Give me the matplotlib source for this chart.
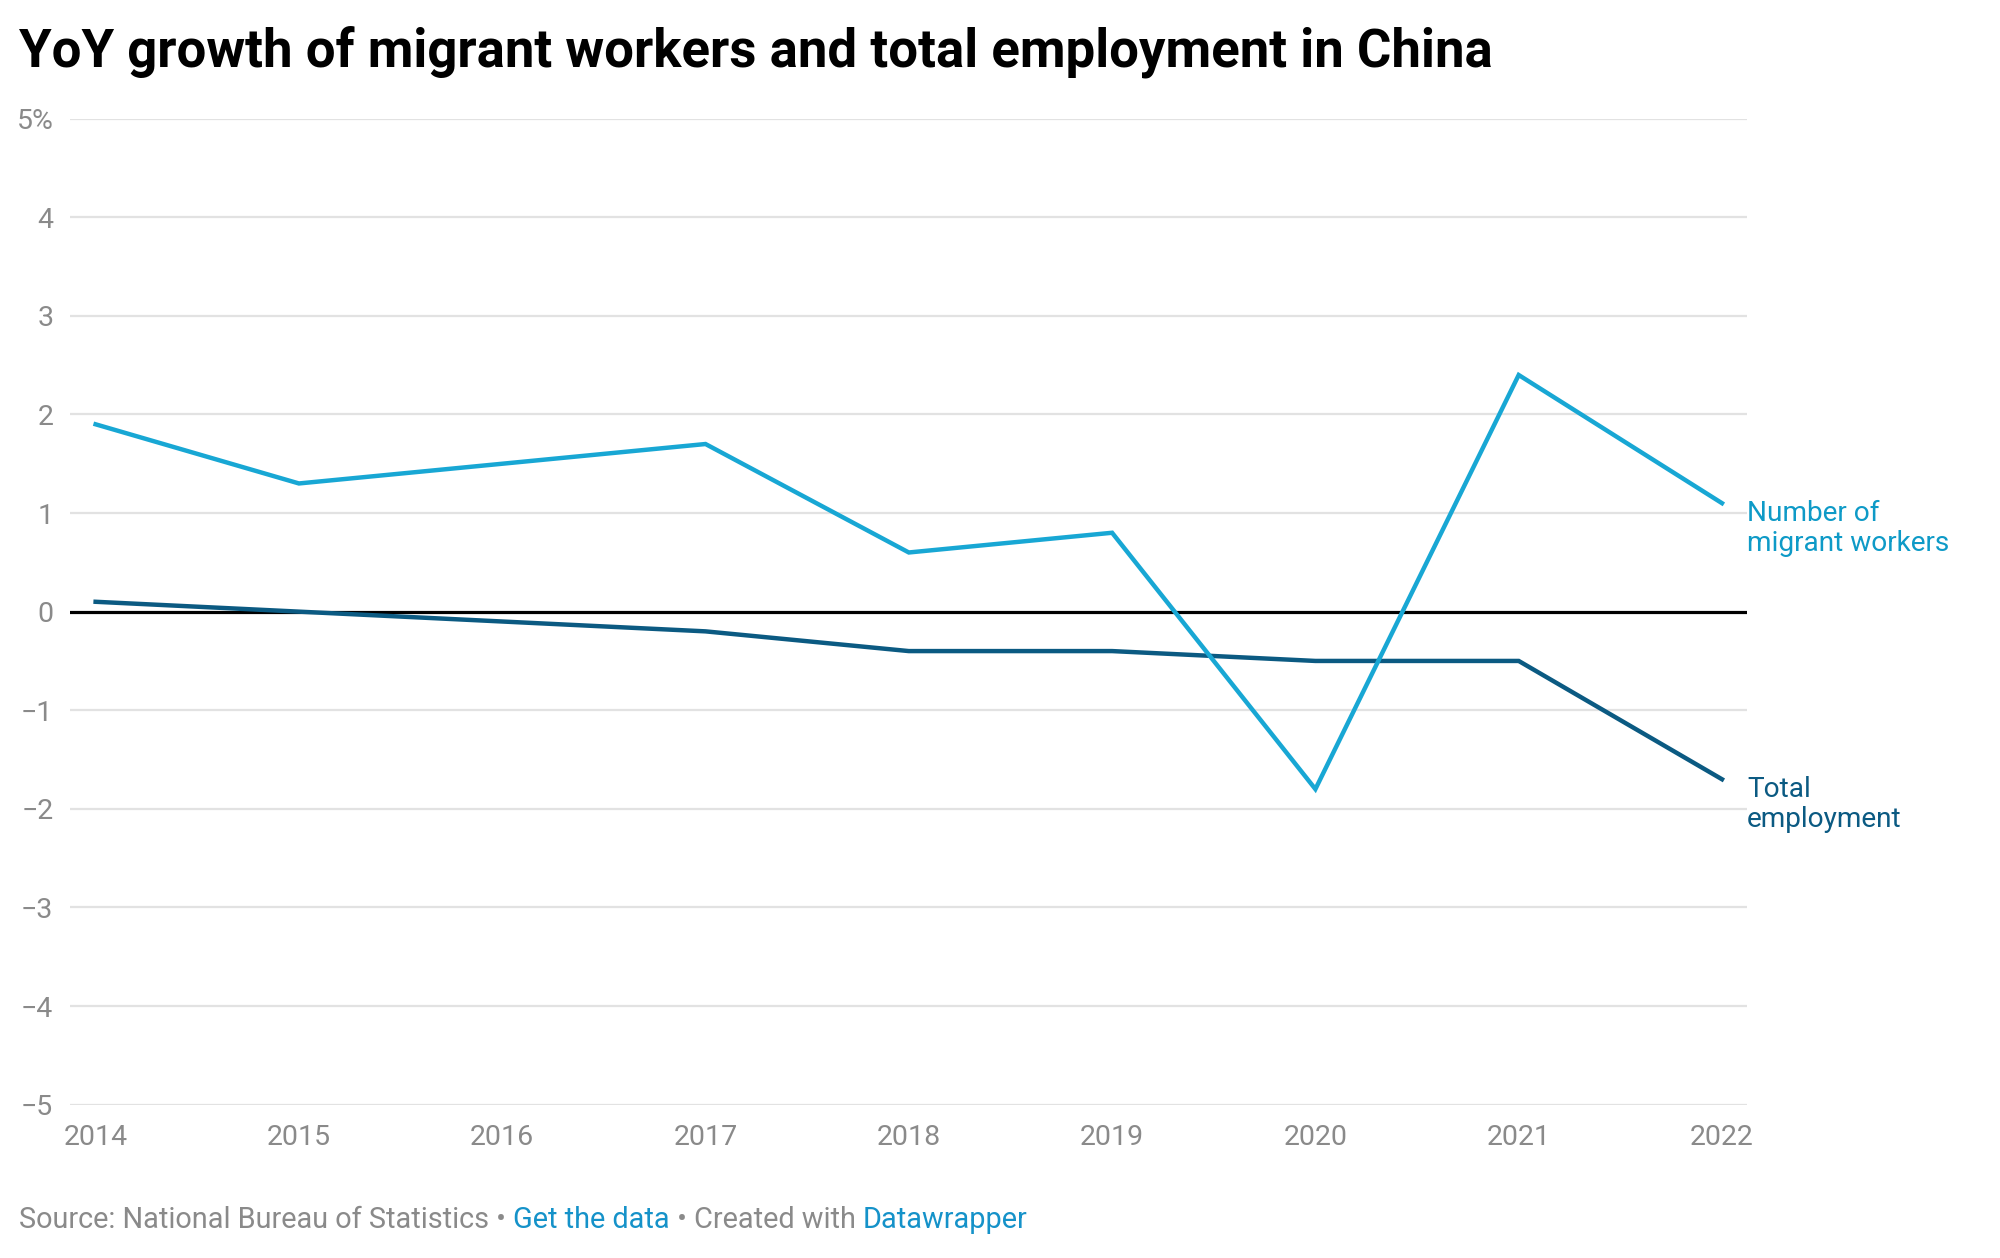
import matplotlib
matplotlib.use('Agg')
import matplotlib.pyplot as plt

years = [2014, 2015, 2016, 2017, 2018, 2019, 2020, 2021, 2022]
migrant_workers = [1.9, 1.3, 1.5, 1.7, 0.6, 0.8, -1.8, 2.4, 1.1]
total_employment = [0.1, 0.0, -0.1, -0.2, -0.4, -0.4, -0.5, -0.5, -1.7]
y_ticks = [5, 4, 3, 2, 1, 0, -1, -2, -3, -4, -5]
y_labels = ['5%', '4', '3', '2', '1', '0', '\u22121', '\u22122', '\u22123', '\u22124', '\u22125']

light_blue = '#18a7d4'
dark_blue = '#0b5a82'
grey = '#8a8a8a'

plt.rcParams['font.family'] = ['Roboto', 'DejaVu Sans']

fig = plt.figure(figsize=(20, 12.58), dpi=100)
ax = fig.add_axes([0.035, 0.1219, 0.8385, 0.7838])

# gridlines drawn by hand so they span the full axes width
for t in y_ticks:
    if t == 0:
        continue
    ax.axhline(t, color='#e2e2e2', lw=1.6, zorder=1)
ax.axhline(0, color='black', lw=2.3, zorder=2)

ax.plot(years, total_employment, color=dark_blue, lw=3.2, zorder=3, solid_joinstyle='miter')
ax.plot(years, migrant_workers, color=light_blue, lw=3.2, zorder=4, solid_joinstyle='miter')

ax.set_xlim(2013.874, 2022.123)
ax.set_ylim(-5, 5)
ax.set_xticks(years)
ax.set_xticklabels([str(y) for y in years])
ax.set_yticks(y_ticks)
ax.set_yticklabels(y_labels)
ax.tick_params(axis='both', length=0, labelsize=20.5, labelcolor=grey)
ax.tick_params(axis='x', pad=14)
ax.tick_params(axis='y', pad=12)
for s in ax.spines.values():
    s.set_visible(False)

# direct labels at the end of each line
ax.text(2022.123, migrant_workers[-1] + 0.03, 'Number of\nmigrant workers', color='#0e9ac7',
        fontsize=20.2, va='top', ha='left', linespacing=1.15, clip_on=False)
ax.text(2022.123, total_employment[-1] + 0.03, 'Total\nemployment', color=dark_blue,
        fontsize=20.2, va='top', ha='left', linespacing=1.15, clip_on=False)

fig.text(0.0095, 0.9475, 'YoY growth of migrant workers and total employment in China',
         fontsize=38, fontweight='bold', color='black', ha='left', va='baseline')

# footer pieces placed one after another
parts = [('Source: National Bureau of Statistics \u2022 ', grey),
         ('Get the data', '#1592c9'),
         (' \u2022 Created with ', grey),
         ('Datawrapper', '#1592c9')]
fig.canvas.draw()
renderer = fig.canvas.get_renderer()
x = 0.0095
for txt, col in parts:
    t = fig.text(x, 0.0238, txt, fontsize=20.8, color=col, ha='left', va='baseline')
    bb = t.get_window_extent(renderer=renderer)
    x += bb.width / fig.bbox.width

fig.savefig('out.png', dpi=100, facecolor='white')
